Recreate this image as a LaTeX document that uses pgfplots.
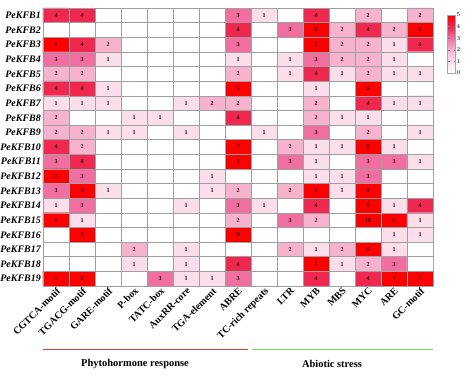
\documentclass[border=0pt]{standalone}
\usepackage{pgfplots}
\pgfplotsset{compat=1.18}
\usepackage{fontspec}
\setmainfont{Liberation Serif}
\definecolor{phred}{RGB}{225,60,50}
\definecolor{abgreen}{RGB}{115,220,85}
\begin{document}
\begin{tikzpicture}
\path[use as bounding box] (-43bp,-90bp) rectangle (431bp,286bp);
\begin{axis}[
 at={(0,0)}, anchor=south west,
 scale only axis, width=390bp, height=278bp,
 xmin=-0.5, xmax=14.5, ymin=-0.5, ymax=18.5, y dir=reverse,
 xtick={0,...,14}, ytick={0,...,18},
 xticklabels={CGTCA-motif,TGACG-motif,GARE-motif,P-box,TATC-box,AuxRR-core,TGA-element,ABRE,TC-rich repeats,LTR,MYB,MBS,MYC,ARE,GC-motif},
 yticklabels={PeKFB1,PeKFB2,PeKFB3,PeKFB4,PeKFB5,PeKFB6,PeKFB7,PeKFB8,PeKFB9,PeKFB10,PeKFB11,PeKFB12,PeKFB13,PeKFB14,PeKFB15,PeKFB16,PeKFB17,PeKFB18,PeKFB19},
 xticklabel style={rotate=45, anchor=north east, font=\fontsize{10}{11}\selectfont\bfseries, inner sep=0.5pt},
 yticklabel style={font=\fontsize{10}{11}\selectfont\bfseries\itshape, inner sep=2pt},
 major tick length=0pt,
 minor xtick={0.5,1.5,...,13.5}, minor ytick={0.5,1.5,...,17.5},
 xminorgrids, yminorgrids,
 minor grid style={gray!75, line width=0.5pt},
 minor tick length=0pt,
 axis on top,
 axis line style={gray!75, line width=0.5pt},
 colormap={kfb}{rgb255(0)=(255,255,255) rgb255(1)=(252,222,234) rgb255(2)=(247,178,205) rgb255(3)=(240,110,160) rgb255(4)=(240,40,80) rgb255(5)=(255,0,0)},
 point meta min=0, point meta max=5,
 colorbar,
 colorbar style={at={(parent axis.north east)}, anchor=north west, xshift=6bp, yshift=-7bp,
   y dir=normal,
   width=8bp, height=58bp, ytick={0,...,5},
   yticklabel style={font=\fontsize{6.5}{7}\selectfont\bfseries, inner sep=1pt},
   major tick length=2pt, axis line style={gray!70}},
 clip=false,
 /pgf/number format/assume math mode=true,
]
\addplot[matrix plot*, mesh/cols=15,
  point meta={min(\thisrow{v},5)},
  visualization depends on={value \thisrow{v} \as \val},
  nodes near coords={\ifnum\val>0 \val\fi},
  every node near coord/.append style={font=\fontsize{6}{7}\selectfont\bfseries, anchor=center, text=black!85!red, inner sep=0pt}]
table {
x y v
0 0 4
1 0 4
2 0 0
3 0 0
4 0 0
5 0 0
6 0 0
7 0 3
8 0 1
9 0 0
10 0 4
11 0 0
12 0 2
13 0 0
14 0 2
0 1 0
1 1 0
2 1 0
3 1 0
4 1 0
5 1 0
6 1 0
7 1 4
8 1 0
9 1 3
10 1 8
11 1 2
12 1 4
13 1 2
14 1 6
0 2 5
1 2 4
2 2 2
3 2 0
4 2 0
5 2 0
6 2 0
7 2 3
8 2 0
9 2 0
10 2 5
11 2 2
12 2 2
13 2 1
14 2 4
0 3 3
1 3 3
2 3 1
3 3 0
4 3 0
5 3 0
6 3 0
7 3 1
8 3 0
9 3 1
10 3 3
11 3 2
12 3 2
13 3 1
14 3 0
0 4 2
1 4 2
2 4 0
3 4 0
4 4 0
5 4 0
6 4 0
7 4 2
8 4 0
9 4 1
10 4 4
11 4 1
12 4 2
13 4 1
14 4 1
0 5 4
1 5 4
2 5 1
3 5 0
4 5 0
5 5 0
6 5 0
7 5 5
8 5 0
9 5 0
10 5 1
11 5 0
12 5 5
13 5 0
14 5 0
0 6 1
1 6 1
2 6 1
3 6 0
4 6 0
5 6 1
6 6 2
7 6 2
8 6 0
9 6 0
10 6 2
11 6 0
12 6 4
13 6 1
14 6 1
0 7 2
1 7 0
2 7 0
3 7 1
4 7 1
5 7 0
6 7 0
7 7 4
8 7 0
9 7 0
10 7 2
11 7 1
12 7 1
13 7 0
14 7 0
0 8 2
1 8 2
2 8 1
3 8 1
4 8 0
5 8 1
6 8 0
7 8 0
8 8 1
9 8 0
10 8 3
11 8 0
12 8 2
13 8 0
14 8 1
0 9 4
1 9 2
2 9 0
3 9 0
4 9 0
5 9 0
6 9 0
7 9 7
8 9 0
9 9 2
10 9 1
11 9 1
12 9 6
13 9 1
14 9 0
0 10 3
1 10 4
2 10 0
3 10 0
4 10 0
5 10 0
6 10 0
7 10 5
8 10 0
9 10 3
10 10 1
11 10 0
12 10 3
13 10 3
14 10 1
0 11 5
1 11 3
2 11 0
3 11 0
4 11 0
5 11 0
6 11 1
7 11 0
8 11 0
9 11 0
10 11 1
11 11 1
12 11 3
13 11 0
14 11 0
0 12 3
1 12 5
2 12 1
3 12 0
4 12 0
5 12 0
6 12 1
7 12 2
8 12 0
9 12 2
10 12 5
11 12 1
12 12 8
13 12 0
14 12 0
0 13 1
1 13 3
2 13 0
3 13 0
4 13 0
5 13 1
6 13 0
7 13 3
8 13 1
9 13 0
10 13 4
11 13 0
12 13 5
13 13 1
14 13 4
0 14 5
1 14 1
2 14 0
3 14 0
4 14 0
5 14 0
6 14 0
7 14 2
8 14 0
9 14 3
10 14 2
11 14 0
12 14 10
13 14 6
14 14 1
0 15 0
1 15 5
2 15 0
3 15 0
4 15 0
5 15 0
6 15 0
7 15 9
8 15 0
9 15 0
10 15 0
11 15 0
12 15 0
13 15 1
14 15 1
0 16 0
1 16 0
2 16 0
3 16 2
4 16 0
5 16 1
6 16 0
7 16 0
8 16 0
9 16 2
10 16 1
11 16 2
12 16 6
13 16 1
14 16 0
0 17 0
1 17 0
2 17 0
3 17 1
4 17 0
5 17 1
6 17 0
7 17 4
8 17 0
9 17 0
10 17 5
11 17 1
12 17 2
13 17 3
14 17 0
0 18 5
1 18 5
2 18 0
3 18 0
4 18 3
5 18 1
6 18 1
7 18 3
8 18 0
9 18 0
10 18 4
11 18 0
12 18 4
13 18 7
14 18 7
};
\draw[phred, line width=1pt] (axis description cs:0,-0.227) -- (axis description cs:0.526,-0.227);
\draw[abgreen, line width=1pt] (axis description cs:0.536,-0.227) -- (axis description cs:1,-0.227);
\node[font=\fontsize{10.5}{12}\selectfont\bfseries] at (axis description cs:0.236,-0.281) {Phytohormone response};
\node[font=\fontsize{10.5}{12}\selectfont\bfseries] at (axis description cs:0.741,-0.281) {Abiotic stress};
\end{axis}
\end{tikzpicture}
\end{document}
